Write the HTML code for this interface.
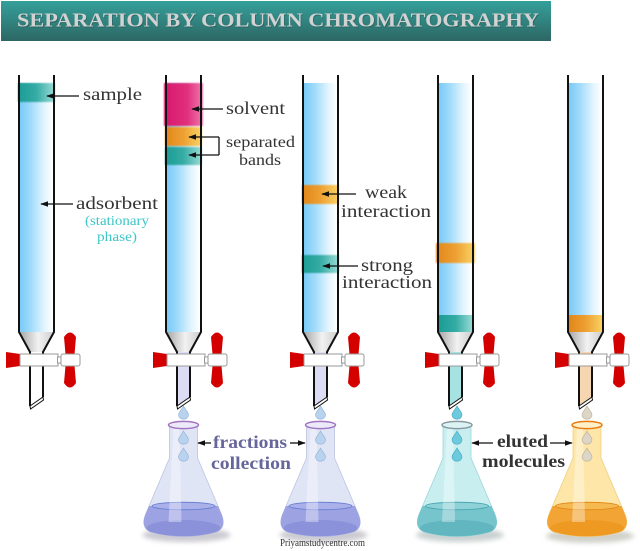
<!DOCTYPE html>
<html><head><meta charset="utf-8"><style>
html,body{margin:0;padding:0;background:#fff;}
svg{display:block;}
text{font-family:"Liberation Serif","DejaVu Serif",serif;}
</style></head><body>
<svg width="640" height="551" viewBox="0 0 640 551" xmlns="http://www.w3.org/2000/svg">
<defs>
<linearGradient id="tb" x1="0" y1="0" x2="0" y2="1"><stop offset="0" stop-color="#35a09b"/><stop offset="1" stop-color="#2d6764"/></linearGradient>
<linearGradient id="blue" x1="0" y1="0" x2="1" y2="0"><stop offset="0" stop-color="#78cbf7"/><stop offset="0.35" stop-color="#a4dcfb"/><stop offset="0.75" stop-color="#e4f5fe"/><stop offset="1" stop-color="#ffffff"/></linearGradient>
<linearGradient id="cone" x1="0" y1="0" x2="1" y2="0"><stop offset="0" stop-color="#a8a8a8"/><stop offset="0.55" stop-color="#f2f2f2"/><stop offset="1" stop-color="#cfcfcf"/></linearGradient>
<linearGradient id="teal" x1="0" y1="0" x2="1" y2="0"><stop offset="0" stop-color="#1a9c95"/><stop offset="0.5" stop-color="#35aca5"/><stop offset="1" stop-color="#9cdcd6"/></linearGradient>
<linearGradient id="orange" x1="0" y1="0" x2="1" y2="0"><stop offset="0" stop-color="#e0861a"/><stop offset="0.5" stop-color="#eea032"/><stop offset="1" stop-color="#fad466"/></linearGradient>
<linearGradient id="pink" x1="0" y1="0" x2="1" y2="0"><stop offset="0" stop-color="#d8186c"/><stop offset="0.6" stop-color="#e0307c"/><stop offset="1" stop-color="#ef78ae"/></linearGradient>
<clipPath id="fclip"><path d="M-14,426 L-14,458 L-37,512 Q-44,527 -33,532 Q0,541 33,532 Q44,527 37,512 L14,458 L14,426 Z"/></clipPath>
<filter id="blur" x="-50%" y="-50%" width="200%" height="200%"><feGaussianBlur stdDeviation="2.5"/></filter>
<filter id="soft" x="-20%" y="-20%" width="140%" height="140%"><feGaussianBlur stdDeviation="0.7"/></filter>
<marker id="ah" viewBox="0 0 10 10" refX="9" refY="5" markerWidth="6" markerHeight="6" orient="auto-start-reverse"><path d="M0,1.5 L10,5 L0,8.5 Z" fill="#111"/></marker>
<path id="drop" d="M0,-6 C2,-2 5,0 5,3 A5,4.2 0 0 1 -5,3 C-5,0 -2,-2 0,-6 Z"/>
<g id="cock">
<polygon points="-13,352 1,354 1,366 -13,368" fill="#d40000"/>
<path d="M45,337 Q51,328 57,337 L55,360 L57,383 Q51,392 45,383 L47,360 Z" fill="#d40000"/>
<rect x="1" y="354" width="38" height="12" fill="#fff" stroke="#9a9a9a"/>
<rect x="38.5" y="357" width="4" height="6" fill="#fff" stroke="#9a9a9a"/>
<rect x="42" y="354" width="19" height="12" rx="2" fill="#fff" stroke="#9a9a9a"/>
</g>
</defs>

<!-- Title -->
<rect x="1" y="1" width="550" height="40" fill="url(#tb)"/>
<text x="17" y="26.5" font-size="19.5" font-weight="bold" fill="#1f4e4c" opacity="0.5" textLength="522" lengthAdjust="spacingAndGlyphs" transform="translate(0.8,0.8)">SEPARATION BY COLUMN CHROMATOGRAPHY</text>
<text x="17" y="26.5" font-size="19.5" font-weight="bold" fill="#d2d2d2" textLength="522" lengthAdjust="spacingAndGlyphs">SEPARATION BY COLUMN CHROMATOGRAPHY</text>

<!-- Column 1 -->
<g transform="translate(19,0)">
<rect x="1" y="83" width="33" height="249" fill="url(#blue)"/>
<rect x="-1" y="83" width="37" height="19" fill="url(#teal)" filter="url(#soft)"/>
<polygon points="1,332 34,332 24,352 11,352" fill="url(#cone)"/>
<polygon points="11,352 24,352 24,397 11,406" fill="#ffffff"/>
<path d="M0,75 V332 L11,352 V406 M35,75 V332 L24,352 V397" stroke="#111" stroke-width="2" fill="none"/>
<path d="M11,406 L24,397 L24.5,400 L11.5,409 Z" fill="#fff" stroke="#111" stroke-width="1"/>
<use href="#cock"/>
</g>

<!-- Column 2 -->
<g transform="translate(166,0)">
<rect x="1" y="83" width="33" height="249" fill="url(#blue)"/>
<rect x="-2" y="83" width="39" height="43" fill="url(#pink)" filter="url(#soft)"/>
<rect x="-1" y="127" width="37" height="19" fill="url(#orange)" filter="url(#soft)"/>
<rect x="-1" y="147" width="37" height="18" fill="url(#teal)" filter="url(#soft)"/>
<polygon points="1,332 34,332 24,352 11,352" fill="url(#cone)"/>
<polygon points="11,352 24,352 24,397 11,406" fill="#dcdcf4"/>
<path d="M0,75 V332 L11,352 V406 M35,75 V332 L24,352 V397" stroke="#111" stroke-width="2" fill="none"/>
<path d="M11,406 L24,397 L24.5,400 L11.5,409 Z" fill="#fff" stroke="#111" stroke-width="1"/>
<use href="#cock"/>
</g>

<!-- Column 3 -->
<g transform="translate(303,0)">
<rect x="1" y="83" width="33" height="249" fill="url(#blue)"/>
<rect x="-1" y="185" width="37" height="19" fill="url(#orange)" filter="url(#soft)"/>
<rect x="-1" y="255" width="37" height="18" fill="url(#teal)" filter="url(#soft)"/>
<polygon points="1,332 34,332 24,352 11,352" fill="url(#cone)"/>
<polygon points="11,352 24,352 24,397 11,406" fill="#dcdcf4"/>
<path d="M0,75 V332 L11,352 V406 M35,75 V332 L24,352 V397" stroke="#111" stroke-width="2" fill="none"/>
<path d="M11,406 L24,397 L24.5,400 L11.5,409 Z" fill="#fff" stroke="#111" stroke-width="1"/>
<use href="#cock"/>
</g>

<!-- Column 4 -->
<g transform="translate(438,0)">
<rect x="1" y="83" width="33" height="249" fill="url(#blue)"/>
<rect x="-2" y="243" width="39" height="20" fill="url(#orange)" filter="url(#soft)"/>
<rect x="1" y="315" width="34" height="17" fill="url(#teal)"/>
<polygon points="1,332 34,332 24,352 11,352" fill="url(#cone)"/>
<polygon points="11,352 24,352 24,397 11,406" fill="#a6e2e2"/>
<path d="M0,75 V332 L11,352 V406 M35,75 V332 L24,352 V397" stroke="#111" stroke-width="2" fill="none"/>
<path d="M11,406 L24,397 L24.5,400 L11.5,409 Z" fill="#fff" stroke="#111" stroke-width="1"/>
<use href="#cock"/>
</g>

<!-- Column 5 -->
<g transform="translate(568,0)">
<rect x="1" y="83" width="33" height="249" fill="url(#blue)"/>
<rect x="1" y="315" width="34" height="17" fill="url(#orange)"/>
<polygon points="1,332 34,332 24,352 11,352" fill="url(#cone)"/>
<polygon points="11,352 24,352 24,397 11,406" fill="#f6d6b0"/>
<path d="M0,75 V332 L11,352 V406 M35,75 V332 L24,352 V397" stroke="#111" stroke-width="2" fill="none"/>
<path d="M11,406 L24,397 L24.5,400 L11.5,409 Z" fill="#fff" stroke="#111" stroke-width="1"/>
<use href="#cock"/>
</g>

<!-- Flask 2 -->
<g transform="translate(183.5,0)">
<ellipse cx="3" cy="535" rx="44" ry="7" fill="#8a8a9a" opacity="0.45" filter="url(#blur)"/>
<path d="M-14,426 L-14,458 L-37,512 Q-44,527 -33,532 Q0,541 33,532 Q44,527 37,512 L14,458 L14,426 Z" fill="#e0e5f6" stroke="#bcc4e2" stroke-width="0.8"/>
<g clip-path="url(#fclip)">
<rect x="-45" y="506" width="90" height="40" fill="#9ca2e2"/>
<ellipse cx="0" cy="528" rx="37" ry="8" fill="#8c92da"/>
</g>
<ellipse cx="0" cy="506" rx="31.5" ry="3.8" fill="#aab0ea" stroke="#6a80d2" stroke-width="1"/>
<polygon points="-10,428 -4,428 -2,522 -15,522" fill="#fff" opacity="0.35"/>
<ellipse cx="0" cy="425" rx="15" ry="3.6" fill="#eceaf8" stroke="#a274c4" stroke-width="1.5"/>
<use href="#drop" x="0" y="412" fill="#b9d2ee" stroke="#8fb0d8" stroke-width="0.6"/>
<use href="#drop" x="0" y="437" fill="#b9d2ee" stroke="#8fb0d8" stroke-width="0.6"/>
<use href="#drop" x="0" y="454" fill="#b9d2ee" stroke="#8fb0d8" stroke-width="0.6"/>
</g>
<!-- Flask 3 -->
<g transform="translate(320.5,0)">
<ellipse cx="3" cy="535" rx="44" ry="7" fill="#8a8a9a" opacity="0.45" filter="url(#blur)"/>
<path d="M-14,426 L-14,458 L-37,512 Q-44,527 -33,532 Q0,541 33,532 Q44,527 37,512 L14,458 L14,426 Z" fill="#e0e5f6" stroke="#bcc4e2" stroke-width="0.8"/>
<g clip-path="url(#fclip)">
<rect x="-45" y="506" width="90" height="40" fill="#9ca2e2"/>
<ellipse cx="0" cy="528" rx="37" ry="8" fill="#8c92da"/>
</g>
<ellipse cx="0" cy="506" rx="31.5" ry="3.8" fill="#aab0ea" stroke="#6a80d2" stroke-width="1"/>
<polygon points="-10,428 -4,428 -2,522 -15,522" fill="#fff" opacity="0.35"/>
<ellipse cx="0" cy="425" rx="15" ry="3.6" fill="#eceaf8" stroke="#a274c4" stroke-width="1.5"/>
<use href="#drop" x="0" y="412" fill="#b9d2ee" stroke="#8fb0d8" stroke-width="0.6"/>
<use href="#drop" x="0" y="437" fill="#b9d2ee" stroke="#8fb0d8" stroke-width="0.6"/>
<use href="#drop" x="0" y="454" fill="#b9d2ee" stroke="#8fb0d8" stroke-width="0.6"/>
</g>
<!-- Flask 4 -->
<g transform="translate(457,0)">
<ellipse cx="3" cy="535" rx="44" ry="7" fill="#8a9a9a" opacity="0.45" filter="url(#blur)"/>
<path d="M-14,426 L-14,458 L-37,512 Q-44,527 -33,532 Q0,541 33,532 Q44,527 37,512 L14,458 L14,426 Z" fill="#c8eef0" stroke="#9ed6da" stroke-width="0.8"/>
<g clip-path="url(#fclip)">
<rect x="-45" y="506" width="90" height="40" fill="#76c4cc"/>
<ellipse cx="0" cy="528" rx="37" ry="8" fill="#62b6c0"/>
</g>
<ellipse cx="0" cy="506" rx="31.5" ry="3.8" fill="#8ed2d8" stroke="#4aa6b2" stroke-width="1"/>
<polygon points="-10,428 -4,428 -2,522 -15,522" fill="#fff" opacity="0.35"/>
<ellipse cx="0" cy="425" rx="15" ry="3.6" fill="#dcf3f4" stroke="#8898a0" stroke-width="1.5"/>
<use href="#drop" x="0" y="412" fill="#6ccadc" stroke="#40a8c0" stroke-width="0.6"/>
<use href="#drop" x="0" y="437" fill="#6ccadc" stroke="#40a8c0" stroke-width="0.6"/>
<use href="#drop" x="0" y="454" fill="#6ccadc" stroke="#40a8c0" stroke-width="0.6"/>
</g>
<!-- Flask 5 -->
<g transform="translate(587,0)">
<ellipse cx="3" cy="536" rx="44" ry="7" fill="#9a9a8a" opacity="0.45" filter="url(#blur)"/>
<path d="M-14,426 L-14,458 L-37,512 Q-44,527 -33,532 Q0,541 33,532 Q44,527 37,512 L14,458 L14,426 Z" fill="#fde6a8" stroke="#f0cf80" stroke-width="0.8"/>
<g clip-path="url(#fclip)">
<rect x="-45" y="506" width="90" height="40" fill="#f2a534"/>
<ellipse cx="0" cy="528" rx="37" ry="8" fill="#ee9a22"/>
</g>
<ellipse cx="0" cy="506" rx="31.5" ry="3.8" fill="#f6b850" stroke="#e08a1a" stroke-width="1"/>
<polygon points="-10,428 -4,428 -2,522 -15,522" fill="#fff" opacity="0.35"/>
<ellipse cx="0" cy="425" rx="15" ry="3.6" fill="#fff0c8" stroke="#e87a10" stroke-width="1.5"/>
<use href="#drop" x="0" y="412" fill="#ddd6c6" stroke="#b8ae98" stroke-width="0.6"/>
<use href="#drop" x="0" y="437" fill="#ddd6c6" stroke="#b8ae98" stroke-width="0.6"/>
<use href="#drop" x="0" y="454" fill="#ddd6c6" stroke="#b8ae98" stroke-width="0.6"/>
</g>

<!-- Arrows -->
<g stroke="#111" stroke-width="1.3" fill="none">
<line x1="79" y1="96" x2="47" y2="96" marker-end="url(#ah)"/>
<line x1="223" y1="109" x2="192" y2="109" marker-end="url(#ah)"/>
<path d="M219,137 V155"/>
<line x1="219" y1="137" x2="189" y2="137" marker-end="url(#ah)"/>
<line x1="219" y1="155" x2="189" y2="155" marker-end="url(#ah)"/>
<line x1="73" y1="204" x2="41" y2="204" marker-end="url(#ah)"/>
<line x1="356" y1="194" x2="322" y2="194" marker-end="url(#ah)"/>
<line x1="358" y1="266" x2="323" y2="266" marker-end="url(#ah)"/>
<line x1="211" y1="443" x2="198" y2="443" marker-end="url(#ah)"/>
<line x1="290" y1="443" x2="305" y2="443" marker-end="url(#ah)"/>
<line x1="493" y1="443" x2="472" y2="443" marker-end="url(#ah)"/>
<line x1="550" y1="443" x2="572" y2="443" marker-end="url(#ah)"/>
</g>

<!-- Labels -->
<g fill="#333" font-size="18">
<text x="83" y="100" textLength="59" lengthAdjust="spacingAndGlyphs">sample</text>
<text x="226" y="114" textLength="59" lengthAdjust="spacingAndGlyphs">solvent</text>
<text x="76" y="209" textLength="82" lengthAdjust="spacingAndGlyphs">adsorbent</text>
<text x="365" y="198" textLength="42" lengthAdjust="spacingAndGlyphs">weak</text>
<text x="341" y="217" textLength="90" lengthAdjust="spacingAndGlyphs">interaction</text>
<text x="361" y="271" textLength="52" lengthAdjust="spacingAndGlyphs">strong</text>
<text x="342" y="288" textLength="90" lengthAdjust="spacingAndGlyphs">interaction</text>
</g>
<g fill="#333" font-size="16">
<text x="226" y="147" textLength="69" lengthAdjust="spacingAndGlyphs">separated</text>
<text x="239" y="165" textLength="42" lengthAdjust="spacingAndGlyphs">bands</text>
</g>
<g fill="#3cc6c6" font-size="14">
<text x="85" y="225" textLength="64" lengthAdjust="spacingAndGlyphs">(stationary</text>
<text x="97" y="241" textLength="40" lengthAdjust="spacingAndGlyphs">phase)</text>
</g>
<g fill="#66669a" font-size="18" font-weight="bold">
<text x="213" y="448" textLength="74" lengthAdjust="spacingAndGlyphs">fractions</text>
<text x="211" y="469" textLength="80" lengthAdjust="spacingAndGlyphs">collection</text>
</g>
<g fill="#333" font-size="18" font-weight="bold">
<text x="497" y="447" textLength="51" lengthAdjust="spacingAndGlyphs">eluted</text>
<text x="482" y="467" textLength="83" lengthAdjust="spacingAndGlyphs">molecules</text>
</g>
<text x="280" y="546" font-size="10" fill="#333" textLength="85" lengthAdjust="spacingAndGlyphs">Priyamstudycentre.com</text>
</svg>
</body></html>
